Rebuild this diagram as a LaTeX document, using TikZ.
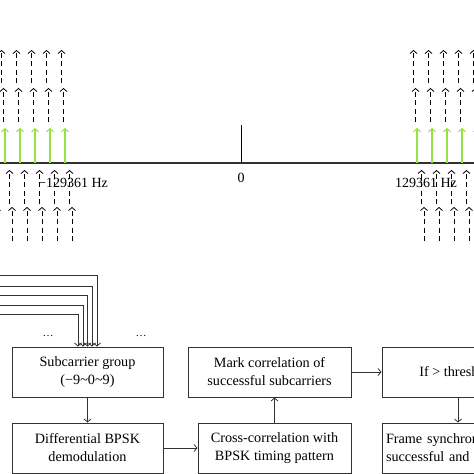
\documentclass[tikz,border=0pt]{standalone}
\usepackage{fontspec}
\setmainfont{Liberation Serif}
\usepackage{xcolor}
\usetikzlibrary{arrows.meta,positioning}
\definecolor{pilotgreen}{RGB}{150,225,70}
\definecolor{axisgray}{RGB}{50,50,50}
\tikzset{>={Straight Barb[length=3pt,width=7pt]}}
\tikzstyle{block}=[draw=axisgray, line width=1pt, minimum width=151pt, minimum height=50pt, align=center, inner sep=2pt, font=\fontsize{14.2}{18}\selectfont]
\tikzstyle{comb}=[->, dash pattern=on 5pt off 3.5pt, line width=0.8pt]
\tikzstyle{pilot}=[->, pilotgreen, line width=1.1pt]
\tikzstyle{link}=[->, axisgray, line width=0.8pt]
\begin{document}
\begin{tikzpicture}[x=1pt, y=-1pt]

\clip (0,0) rectangle (474,474);

% spectrum
\draw[line width=1.3pt, axisgray] (0,163) -- (474,163);
\draw[line width=0.9pt] (241,125) -- (241,163);
\node[font=\fontsize{14}{16}\selectfont] (zero) at (241,178) {0};
\node[font=\fontsize{14}{16}\selectfont] (fneg) at (73,183) {−129361 Hz};
\node[font=\fontsize{14}{16}\selectfont] (fpos) at (426,183) {129361 Hz};

\foreach \x in {-10,5,20,35,50,65,417,432,447,462,477} {
  \draw[comb] (\x-3.5,83) -- (\x-3.5,50);
  \draw[comb] (\x-1.5,122) -- (\x-1.5,88);
  \draw[pilot] (\x,163) -- (\x,128);
  \draw[comb] (\x+4.5,204) -- (\x+4.5,170);
  \draw[comb] (\x+7,241) -- (\x+7,207);
}

% flow
\node[block] (sub) at (87.5,372) {Subcarrier group\\(−9\textasciitilde0\textasciitilde9)};
\node[block] (demod) at (87.5,448) {Differential BPSK\\demodulation};
\node[block, minimum width=153pt] (xcorr) at (274.5,448) {Cross-correlation with\\BPSK timing pattern};
\node[block, minimum width=163pt] (mark) at (269.5,372) {Mark correlation of\\successful subcarriers};
\node[block, minimum width=152pt] (thr) at (458,372) {If > threshold};
\node[block, minimum width=152pt, text width=144pt, align=left] (sync) at (458,448) {Frame synchronization\\successful and \textbf{I}};

\node[font=\fontsize{11}{12}\selectfont] (dotsL) at (48,336) {\dots};
\node[font=\fontsize{11}{12}\selectfont] (dotsR) at (141,336) {\dots};

% inputs of the group
\foreach \i/\dx/\yy in {1/-9.5/314, 2/-4.5/305, 3/0/295, 4/4.5/286, 5/9.5/275} {
  \coordinate (in\i) at (0,\yy);
  \draw[link] (in\i) -| ([xshift=\dx pt]sub.north);
}

\draw[link] (sub) -- (demod);
\draw[link] (demod) -- (xcorr);
\draw[link] (xcorr) -- (xcorr |- mark.south);
\draw[link] (mark) -- (thr);
\draw[link] (thr) -- (sync);

\end{tikzpicture}
\end{document}
